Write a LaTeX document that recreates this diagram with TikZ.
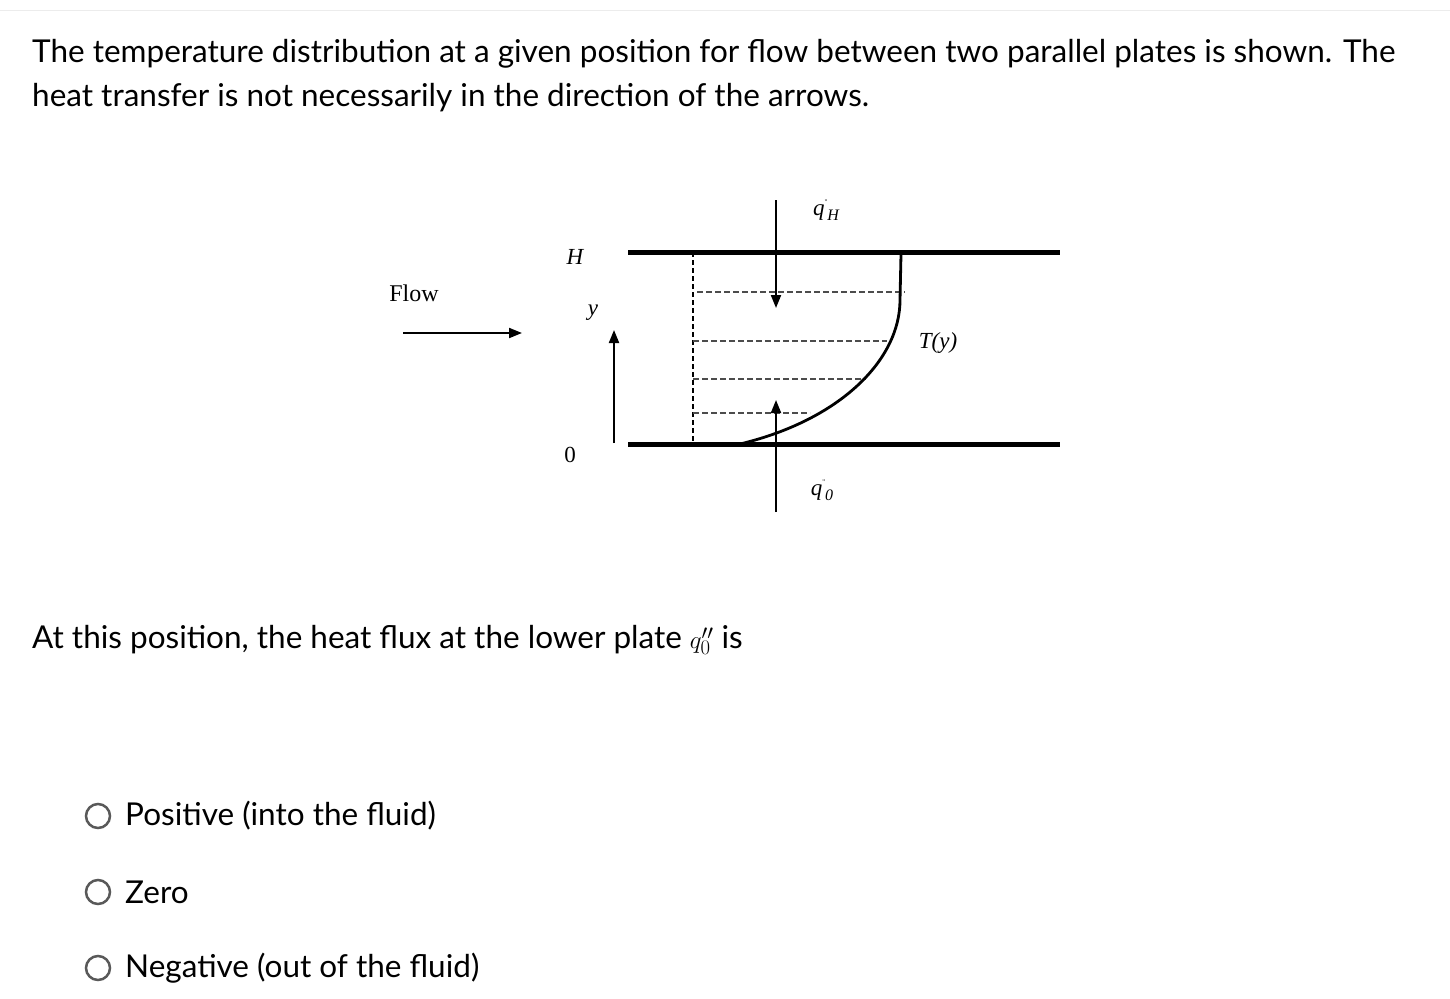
\documentclass[tikz,border=0pt]{standalone}
\usepackage{fontspec}
\setmainfont{Lato}
\newfontfamily\serifd{Liberation Serif}
\usetikzlibrary{arrows.meta}
\begin{document}
\begin{tikzpicture}[x=1pt,y=-1pt,
  body/.style={anchor=west,inner sep=0pt,font=\fontsize{31.5}{36}\selectfont},
  plate/.style={line width=5pt},
  hdash/.style={dashed,line width=1.3pt,dash pattern=on 6pt off 3pt,gray!60!black},
  arr/.style={line width=2pt,-{Triangle[length=13pt,width=10pt]}},
  lab/.style={font=\serifd\fontsize{23}{26}\selectfont\itshape,inner sep=0pt},
  radio/.style={circle,draw=gray!70!black,line width=2.5pt,minimum size=24pt,inner sep=0pt}]
\useasboundingbox (0,0) rectangle (1450,998);
\draw[gray!15] (0,10) -- (1450,10);
\node[body] (t1) at (32,54) {The temperature distribution at a given position for flow between two parallel plates is shown. The};
\node[body] (t2) at (32,98) {heat transfer is not necessarily in the direction of the arrows.};
% plates
\draw[plate] (628,252) -- (1060,252);
\draw[plate] (628,444) -- (1060,444);
\draw[line width=2.5pt,dash pattern=on 5pt off 3pt] (693,252) -- (693,444);
\draw[hdash] (697,292) -- (905,292);
\draw[hdash] (693,341) -- (887,341);
\draw[hdash] (693,379) -- (866,379);
\draw[hdash] (693,413) -- (810,413);
\draw[line width=2.8pt] (740,444) .. controls (840,420) and (900,360) .. (900,300) -- (901,254);
% arrows
\coordinate (qht) at (776,200); \coordinate (qhb) at (776,308);
\draw[arr] (qht) -- (qhb);
\coordinate (q0b) at (776,512); \coordinate (q0t) at (776,400);
\draw[arr] (q0b) -- (q0t);
\coordinate (yb) at (614,443); \coordinate (yt) at (614,330);
\draw[arr] (yb) -- (yt);
\coordinate (fl) at (403,333); \coordinate (fr) at (522,333);
\draw[arr] (fl) -- (fr);
% labels
\node[lab] (H) at (575,257) {H};
\node[lab] (y) at (593,313) {y};
\node[lab,font=\serifd\fontsize{23}{26}\selectfont] (z) at (570,455) {0};
\node[lab] (qH) at (826,210) {q\raisebox{11pt}{\scriptsize\upshape"}\raisebox{-5pt}{\fontsize{16}{16}\selectfont H}};
\node[lab] (q0) at (822,490) {q\raisebox{11pt}{\scriptsize\upshape"}\raisebox{-5pt}{\fontsize{16}{16}\selectfont 0}};
\node[lab] (T) at (938,343) {T(y)};
\node[lab,font=\serifd\fontsize{24}{26}\selectfont] (flow) at (414,293) {Flow};
\node[body] (t3) at (32,640) {At this position, the heat flux at the lower plate $q''_0$ is};
\node[radio] (r1) at (98,816) {};
\node[body] (o1) at (125,816) {Positive (into the fluid)};
\node[radio] (r2) at (98,892) {};
\node[body] (o2) at (125,892) {Zero};
\node[radio] (r3) at (98,968) {};
\node[body] (o3) at (125,968) {Negative (out of the fluid)};
\end{tikzpicture}
\end{document}
